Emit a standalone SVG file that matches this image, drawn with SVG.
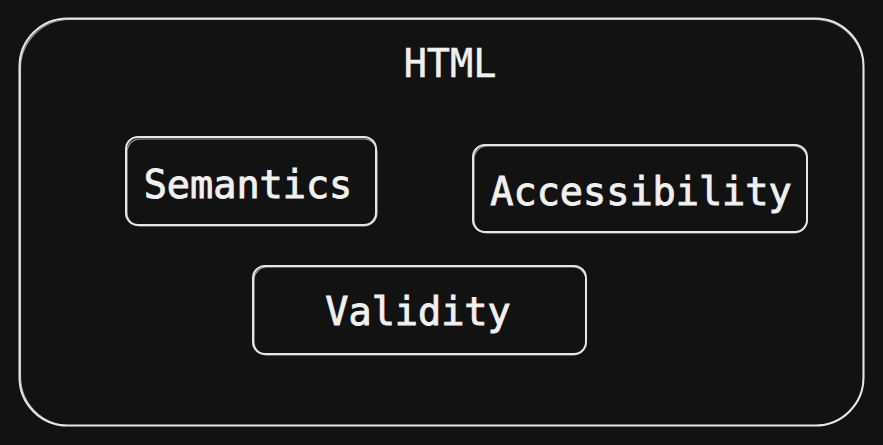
<svg xmlns="http://www.w3.org/2000/svg" width="883" height="445" viewBox="0 0 883 445">
<style>
.bg{fill:#121212}
.box{fill:none;stroke:#e6e6e6;stroke-width:2;stroke-linecap:round}
.box2{fill:none;stroke:#e6e6e6;stroke-width:1.2;opacity:0.7}
.lbl{font-family:"DejaVu Sans Mono","Liberation Mono",monospace;font-size:38.5px;fill:#f0f0f0;stroke:#f0f0f0;stroke-width:0.9;text-anchor:middle}
.ttl{stroke-width:0.5}
</style>
<rect class="bg" x="0" y="0" width="883" height="445"/>
<g id="html">
<rect class="box" x="19.5" y="18.5" width="844" height="407" rx="48"/>
<rect class="box2" x="20.5" y="19.5" width="843" height="406" rx="49"/>
<text class="lbl ttl" x="450" y="77">HTML</text>
</g>
<g id="semantics">
<rect class="box" x="126" y="137" width="250" height="88" rx="12"/>
<rect class="box2" x="127" y="139" width="250" height="87" rx="13"/>
<text class="lbl" x="248" y="198">Semantics</text>
</g>
<g id="accessibility">
<rect class="box" x="473" y="145" width="334" height="87" rx="12"/>
<rect class="box2" x="474" y="146" width="333" height="87" rx="13"/>
<text class="lbl" x="641" y="205">Accessibility</text>
</g>
<g id="validity">
<rect class="box" x="253" y="266" width="333" height="88" rx="12"/>
<rect class="box2" x="254" y="267" width="332" height="88" rx="13"/>
<text class="lbl" x="418" y="325">Validity</text>
</g>
<g id="connectors"></g>
</svg>
